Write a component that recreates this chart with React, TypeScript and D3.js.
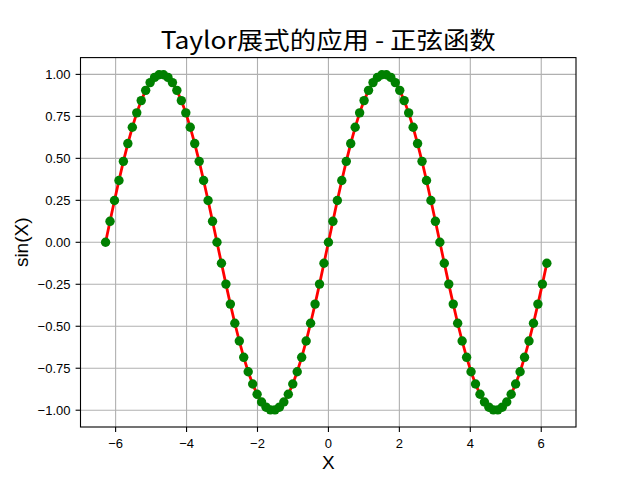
import React from "react";
import * as d3 from "d3";

const xValues: number[] = [
  -6.283, -6.158, -6.032, -5.906, -5.781, -5.655, -5.529, -5.404, -5.278, -5.152,
  -5.027, -4.901, -4.775, -4.65, -4.524, -4.398, -4.273, -4.147, -4.021, -3.896,
  -3.77, -3.644, -3.519, -3.393, -3.267, -3.142, -3.016, -2.89, -2.765, -2.639,
  -2.513, -2.388, -2.262, -2.136, -2.011, -1.885, -1.759, -1.634, -1.508, -1.382,
  -1.257, -1.131, -1.005, -0.88, -0.754, -0.628, -0.503, -0.377, -0.251, -0.126,
  0.0, 0.126, 0.251, 0.377, 0.503, 0.628, 0.754, 0.88, 1.005, 1.131,
  1.257, 1.382, 1.508, 1.634, 1.759, 1.885, 2.011, 2.136, 2.262, 2.388,
  2.513, 2.639, 2.765, 2.89, 3.016, 3.142, 3.267, 3.393, 3.519, 3.644,
  3.77, 3.896, 4.021, 4.147, 4.273, 4.398, 4.524, 4.65, 4.775, 4.901,
  5.027, 5.152, 5.278, 5.404, 5.529, 5.655, 5.781, 5.906, 6.032, 6.158,
];

const sinValues: number[] = [
  0.0, 0.125, 0.249, 0.368, 0.482, 0.588, 0.685, 0.771, 0.844, 0.905,
  0.951, 0.982, 0.998, 0.998, 0.982, 0.951, 0.905, 0.844, 0.771, 0.685,
  0.588, 0.482, 0.368, 0.249, 0.125, 0.0, -0.125, -0.249, -0.368, -0.482,
  -0.588, -0.685, -0.771, -0.844, -0.905, -0.951, -0.982, -0.998, -0.998, -0.982,
  -0.951, -0.905, -0.844, -0.771, -0.685, -0.588, -0.482, -0.368, -0.249, -0.125,
  0.0, 0.125, 0.249, 0.368, 0.482, 0.588, 0.685, 0.771, 0.844, 0.905,
  0.951, 0.982, 0.998, 0.998, 0.982, 0.951, 0.905, 0.844, 0.771, 0.685,
  0.588, 0.482, 0.368, 0.249, 0.125, 0.0, -0.125, -0.249, -0.368, -0.482,
  -0.588, -0.685, -0.771, -0.844, -0.905, -0.951, -0.982, -0.998, -0.998, -0.982,
  -0.951, -0.905, -0.844, -0.771, -0.685, -0.588, -0.482, -0.368, -0.249, -0.125,
];

const xTicks: number[] = [-6, -4, -2, 0, 2, 4, 6];
const yTicks: number[] = [1.0, 0.75, 0.5, 0.25, 0.0, -0.25, -0.5, -0.75, -1.0];

const titleText = "Taylor展式的应用 - 正弦函数";
const xLabel = "X";
const yLabel = "sin(X)";

const W = 640;
const H = 480;
const left = 80.5;
const right = 576;
const top = 57.6;
const bottom = 427;
const FONT = "'Noto Sans CJK SC', 'Noto Sans', sans-serif";
const LATIN = "'Liberation Sans', 'DejaVu Sans', sans-serif";

export default function App() {
  const x = d3.scaleLinear().domain([-6.99, 6.98]).range([left, right]);
  const y = d3.scaleLinear().domain([-1.1, 1.1]).range([bottom, top]);
  const data = xValues.map((v, i) => [v, sinValues[i]] as [number, number]);
  const line = d3
    .line<[number, number]>()
    .x((d) => x(d[0]))
    .y((d) => y(d[1]));
  const fmtY = (v: number) => (v < 0 ? "\u2212" : "") + Math.abs(v).toFixed(2);
  const fmtX = (v: number) => (v < 0 ? "\u2212" : "") + Math.abs(v).toString();

  return (
    <svg
      width={W}
      height={H}
      style={{ position: "absolute", left: 0, top: 0, background: "#fff" }}
      fontFamily={FONT}
    >
      <rect x={0} y={0} width={W} height={H} fill="#fff" />
      {/* grid */}
      <g stroke="#b0b0b0" strokeWidth={1.1}>
        {xTicks.map((t) => (
          <line key={"gx" + t} x1={x(t)} x2={x(t)} y1={top} y2={bottom} />
        ))}
        {yTicks.map((t) => (
          <line key={"gy" + t} x1={left} x2={right} y1={y(t)} y2={y(t)} />
        ))}
      </g>
      {/* line */}
      <path d={line(data) || ""} fill="none" stroke="#ff0000" strokeWidth={2.8} />
      {/* markers */}
      <g fill="#008000">
        {data.map((d, i) => (
          <circle key={i} cx={x(d[0])} cy={y(d[1])} r={4.7} />
        ))}
      </g>
      {/* spines */}
      <rect
        x={left}
        y={top}
        width={right - left}
        height={bottom - top}
        fill="none"
        stroke="#000"
        strokeWidth={1.1}
      />
      {/* x ticks */}
      <g fontFamily={LATIN}>
        {xTicks.map((t) => (
          <g key={"xt" + t}>
            <line x1={x(t)} x2={x(t)} y1={bottom} y2={bottom + 4.9} stroke="#000" strokeWidth={1.1} />
            <text x={x(t)} y={447.5} textAnchor="middle" fontSize={13} fill="#000">
              {fmtX(t)}
            </text>
          </g>
        ))}
      </g>
      {/* y ticks */}
      <g fontFamily={LATIN}>
        {yTicks.map((t) => (
          <g key={"yt" + t}>
            <line x1={left - 4.9} x2={left} y1={y(t)} y2={y(t)} stroke="#000" strokeWidth={1.1} />
            <text x={70.5} y={y(t) + 4.6} textAnchor="end" fontSize={13} fill="#000">
              {fmtY(t)}
            </text>
          </g>
        ))}
      </g>
      {/* title */}
      <text
        x={(left + right) / 2}
        y={49}
        textAnchor="middle"
        fontSize={24}
        fill="#000"
        textLength={335}
        lengthAdjust="spacingAndGlyphs"
      >
        {titleText}
      </text>
      {/* x label */}
      <text
        x={(left + right) / 2}
        y={468.5}
        textAnchor="middle"
        fontSize={19}
        fontFamily={LATIN}
        fill="#000"
      >
        {xLabel}
      </text>
      {/* y label */}
      <text
        transform={`translate(28, ${(top + bottom) / 2}) rotate(-90)`}
        textAnchor="middle"
        fontSize={19}
        fontFamily={LATIN}
        fill="#000"
      >
        {yLabel}
      </text>
    </svg>
  );
}
